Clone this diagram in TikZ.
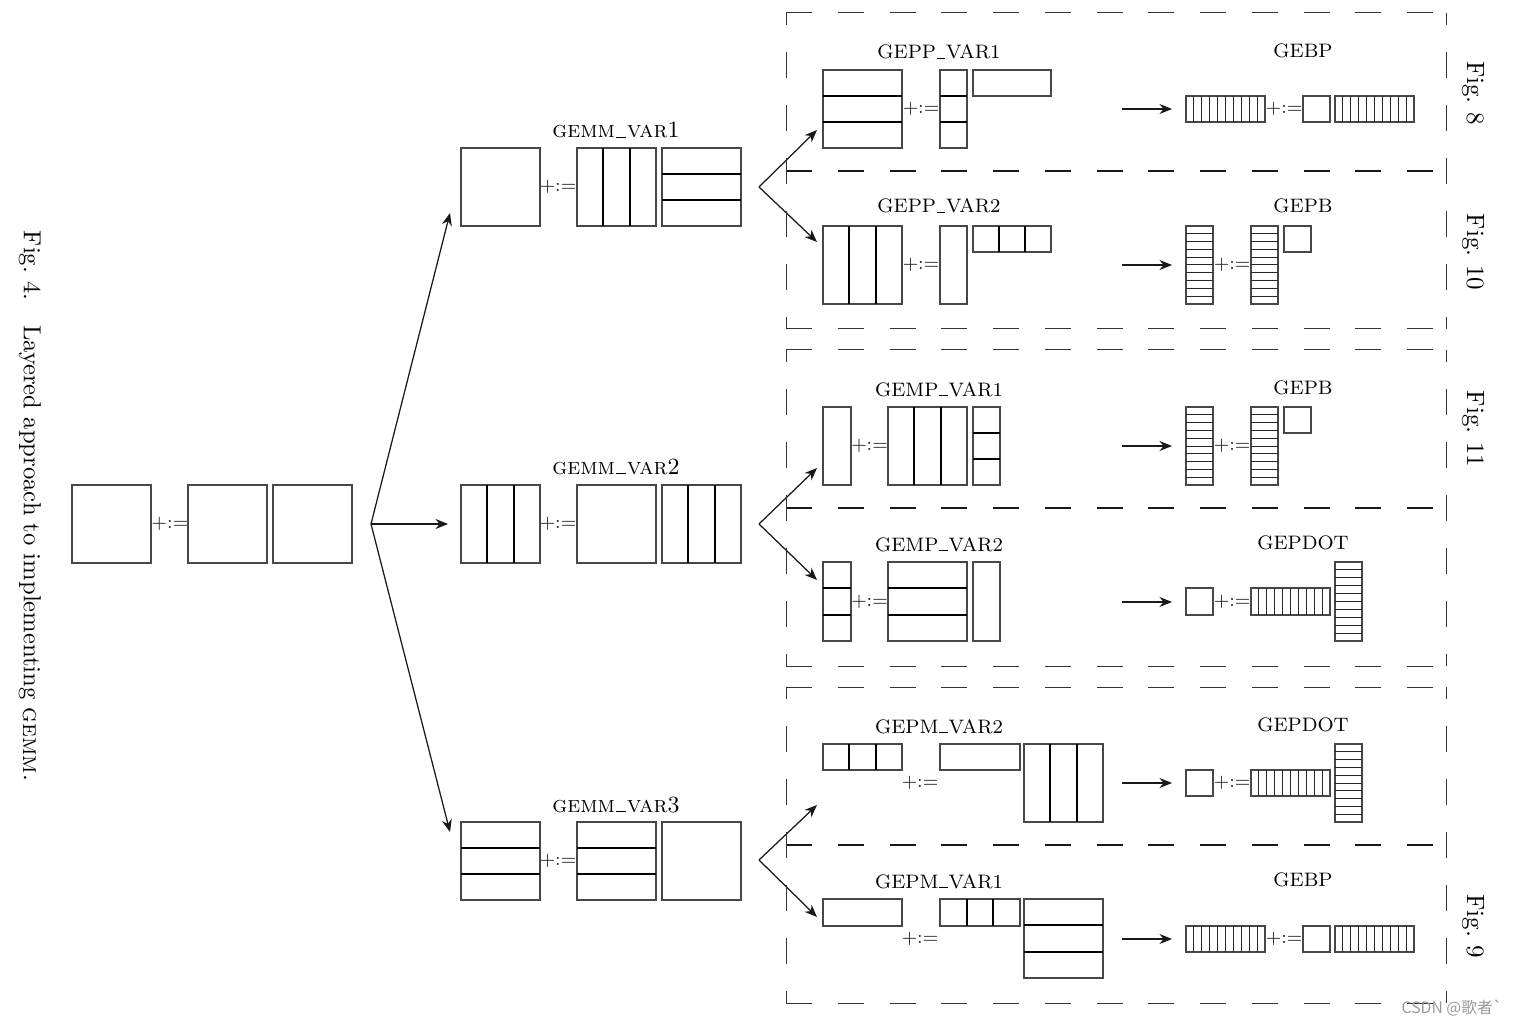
\documentclass[tikz,border=0pt]{standalone}
\usepackage{fontspec}
\newfontfamily\cjk{Noto Sans CJK SC}
\usetikzlibrary{arrows.meta,calc}
\newcommand\usc{\kern0.05em\rule[-0.02em]{0.42em}{0.05em}\kern0.05em}
\tikzset{
  matb/.style={draw=black!72, line width=0.5pt, inner sep=0pt, outer sep=0pt, rectangle},
  part/.style={black, line width=0.8pt},
  fine/.style={black!85, line width=0.4pt},
  arr/.style={black!90, line width=0.5pt, -{Stealth[length=5pt,width=4pt]}},
  op/.style={font=\fontsize{7.5}{9}\selectfont, text=black!88, inner sep=0pt},
  lbl/.style={font=\fontsize{7.8}{9}\selectfont, inner sep=0pt, anchor=base},
  slbl/.style={font=\fontsize{9.3}{11}\selectfont, inner sep=0pt, anchor=base},
  dashh/.style={black!80, line width=0.4pt, dash pattern=on 10.4pt off 10.3pt},
  dashm/.style={black!90, line width=0.85pt, dash pattern=on 10.4pt off 10.3pt},
  dashv/.style={black!80, line width=0.4pt, dash pattern=on 10.4pt off 10.8pt, dash phase=5.6pt},
  figl/.style={font=\fontsize{10}{12}\selectfont, rotate=-90, inner sep=0pt},
}
\newcommand\Mat[6][]{%
  \node[matb,#1, minimum width={(#5-#3)*0.4pt}, minimum height={(#6-#4)*0.4pt}] (#2) at ({(#3+#5)/2},{(#4+#6)/2}) {};}
\newcommand\VS[3]{%
  \pgfmathtruncatemacro\nmo{#2-1}%
  \foreach \k in {1,...,\nmo}{\draw[#3] ($(#1.north west)!{\k/#2}!(#1.north east)$) -- ($(#1.south west)!{\k/#2}!(#1.south east)$);}}
\newcommand\HS[3]{%
  \pgfmathtruncatemacro\nmo{#2-1}%
  \foreach \k in {1,...,\nmo}{\draw[#3] ($(#1.north west)!{\k/#2}!(#1.south west)$) -- ($(#1.north east)!{\k/#2}!(#1.south east)$);}}
\newcommand\DBox[3]{% top, middle, bottom
  \draw[dashh] (786,#1) -- (1446,#1);
  \draw[dashm] (786,#2) -- (1446,#2);
  \draw[dashh] (786,#3) -- (1446,#3);
  \draw[dashv] (786,#1) -- (786,#3);
  \draw[dashv] (1446,#1) -- (1446,#3);}
\begin{document}
\begin{tikzpicture}[x=0.4pt,y=-0.4pt]
\useasboundingbox (0,0) rectangle (1513,1025);

% caption
\node[figl, font=\fontsize{9.85}{12}\selectfont] (cap) at (30,506) {Fig.~4.\quad Layered approach to implementing \textsc{gemm}.};

% top level
\Mat{a0}{72}{485}{151}{563}
\node[op] (op0) at (170,524) {+:=};
\Mat{b0}{188}{485}{267}{563}
\Mat{c0}{273}{485}{352}{563}

% GEMM_VAR1
\node[slbl] (lg1) at (616,138) {\textsc{gemm\usc var}1};
\Mat{g1c}{461}{148}{540}{226}
\node[op] (og1) at (558,187) {+:=};
\Mat{g1a}{577}{148}{656}{226} \VS{g1a}{3}{part}
\Mat{g1b}{662}{148}{741}{226} \HS{g1b}{3}{part}

% GEMM_VAR2
\node[slbl] (lg2) at (616,474) {\textsc{gemm\usc var}2};
\Mat{g2c}{461}{485}{540}{563} \VS{g2c}{3}{part}
\node[op] (og2) at (558,524) {+:=};
\Mat{g2a}{577}{485}{656}{563}
\Mat{g2b}{662}{485}{741}{563} \VS{g2b}{3}{part}

% GEMM_VAR3
\node[slbl] (lg3) at (616,812) {\textsc{gemm\usc var}3};
\Mat{g3c}{461}{822}{540}{900} \HS{g3c}{3}{part}
\node[op] (og3) at (558,861) {+:=};
\Mat{g3a}{577}{822}{656}{900} \HS{g3a}{3}{part}
\Mat{g3b}{662}{822}{741}{900}

% first-level arrows
\coordinate (s0) at (371,524);
\coordinate (t1) at (450,213);
\coordinate (t2) at (448,524);
\coordinate (t3) at (450,832);
\draw[arr] (s0) -- (t1);
\draw[arr] (s0) -- (t2);
\draw[arr] (s0) -- (t3);

% branch arrows
\coordinate (s1) at (759,187); \coordinate (u1) at (817,130); \coordinate (l1) at (817,242);
\coordinate (s2) at (759,524); \coordinate (u2) at (817,468); \coordinate (l2) at (817,580);
\coordinate (s3) at (759,860); \coordinate (u3) at (817,805); \coordinate (l3) at (817,917);
\draw[arr] (s1) -- (u1); \draw[arr] (s1) -- (l1);
\draw[arr] (s2) -- (u2); \draw[arr] (s2) -- (l2);
\draw[arr] (s3) -- (u3); \draw[arr] (s3) -- (l3);

% dashed frames
\DBox{13}{171}{329}
\DBox{350}{508}{666}
\DBox{687}{845}{1003}

% fig labels
\node[figl] (f8) at (1473,93) {Fig.~8};
\node[figl] (f10) at (1473,252) {Fig.~10};
\node[figl] (f11) at (1473,429) {Fig.~11};
\node[figl] (f9) at (1473,926) {Fig.~9};

% right-hand arrows
\foreach \y/\n in {109/1,265/2,446/3,602/4,783/5,939/6}{
  \coordinate (ra\n) at (1122,\y); \coordinate (rb\n) at (1172,\y);
  \draw[arr] (ra\n) -- (rb\n);}

% ---- GEPP_VAR1 / GEBP
\node[lbl] (lp1) at (939,59) {GEPP\usc VAR1};
\Mat{p1c}{823}{70}{902}{148} \HS{p1c}{3}{part}
\node[op] (op1) at (921,109) {+:=};
\Mat{p1a}{940}{70}{967}{148} \HS{p1a}{3}{part}
\Mat{p1b}{973}{70}{1051}{96}
\node[lbl] (lk1) at (1303,57.5) {GEBP};
\Mat{k1c}{1186}{96}{1265}{122} \VS{k1c}{10}{fine}
\node[op] (ok1) at (1284,109) {+:=};
\Mat{k1a}{1303}{96}{1330}{122}
\Mat{k1b}{1335}{96}{1414}{122} \VS{k1b}{10}{fine}

% ---- GEPP_VAR2 / GEPB
\node[lbl] (lp2) at (939,213) {GEPP\usc VAR2};
\Mat{p2c}{823}{226}{902}{304} \VS{p2c}{3}{part}
\node[op] (op2) at (921,265) {+:=};
\Mat{p2a}{940}{226}{967}{304}
\Mat{p2b}{973}{226}{1051}{252} \VS{p2b}{3}{part}
\node[lbl] (lk2) at (1303,213) {GEPB};
\Mat{k2c}{1186}{226}{1213}{304} \HS{k2c}{10}{fine}
\node[op] (ok2) at (1232,265) {+:=};
\Mat{k2a}{1251}{226}{1278}{304} \HS{k2a}{10}{fine}
\Mat{k2b}{1284}{226}{1311}{252}

% ---- GEMP_VAR1 / GEPB
\node[lbl] (lp3) at (939,396) {GEMP\usc VAR1};
\Mat{p3c}{823}{407}{851}{485}
\node[op] (op3) at (869.5,446) {+:=};
\Mat{p3a}{888}{407}{967}{485} \VS{p3a}{3}{part}
\Mat{p3b}{973}{407}{1000}{485} \HS{p3b}{3}{part}
\node[lbl] (lk3) at (1303,394) {GEPB};
\Mat{k3c}{1186}{407}{1213}{485} \HS{k3c}{10}{fine}
\node[op] (ok3) at (1232,446) {+:=};
\Mat{k3a}{1251}{407}{1278}{485} \HS{k3a}{10}{fine}
\Mat{k3b}{1284}{407}{1311}{433}

% ---- GEMP_VAR2 / GEPDOT
\node[lbl] (lp4) at (939,551) {GEMP\usc VAR2};
\Mat{p4c}{823}{562}{851}{641} \HS{p4c}{3}{part}
\node[op] (op4) at (869.5,602) {+:=};
\Mat{p4a}{888}{562}{967}{641} \HS{p4a}{3}{part}
\Mat{p4b}{973}{562}{1000}{641}
\node[lbl] (lk4) at (1303,549) {GEPDOT};
\Mat{k4c}{1186}{588}{1213}{615}
\node[op] (ok4) at (1232,602) {+:=};
\Mat{k4a}{1251}{588}{1330}{615} \VS{k4a}{10}{fine}
\Mat{k4b}{1335}{562}{1362}{641} \HS{k4b}{10}{fine}

% ---- GEPM_VAR2 / GEPDOT
\node[lbl] (lp5) at (939,733) {GEPM\usc VAR2};
\Mat{p5c}{823}{744}{902}{770} \VS{p5c}{3}{part}
\node[op] (op5) at (920,783) {+:=};
\Mat{p5a}{940}{744}{1020}{770}
\Mat{p5b}{1024}{744}{1103}{822} \VS{p5b}{3}{part}
\node[lbl] (lk5) at (1303,731) {GEPDOT};
\Mat{k5c}{1186}{770}{1213}{796}
\node[op] (ok5) at (1232,783) {+:=};
\Mat{k5a}{1251}{770}{1330}{796} \VS{k5a}{10}{fine}
\Mat{k5b}{1335}{744}{1362}{822} \HS{k5b}{10}{fine}

% ---- GEPM_VAR1 / GEBP
\node[lbl] (lp6) at (939,888) {GEPM\usc VAR1};
\Mat{p6c}{823}{899}{902}{926}
\node[op] (op6) at (920,939) {+:=};
\Mat{p6a}{940}{899}{1020}{926} \VS{p6a}{3}{part}
\Mat{p6b}{1024}{899}{1103}{978} \HS{p6b}{3}{part}
\node[lbl] (lk6) at (1303,886) {GEBP};
\Mat{k6c}{1186}{926}{1265}{952} \VS{k6c}{10}{fine}
\node[op] (ok6) at (1284,939) {+:=};
\Mat{k6a}{1303}{926}{1330}{952}
\Mat{k6b}{1335}{926}{1414}{952} \VS{k6b}{10}{fine}

% watermark
\node[font=\cjk\fontsize{6.3}{8}\selectfont, text=black!40, anchor=base, inner sep=0pt] (wm) at (1452,1013) {CSDN @歌者\textasciigrave};
\end{tikzpicture}
\end{document}
